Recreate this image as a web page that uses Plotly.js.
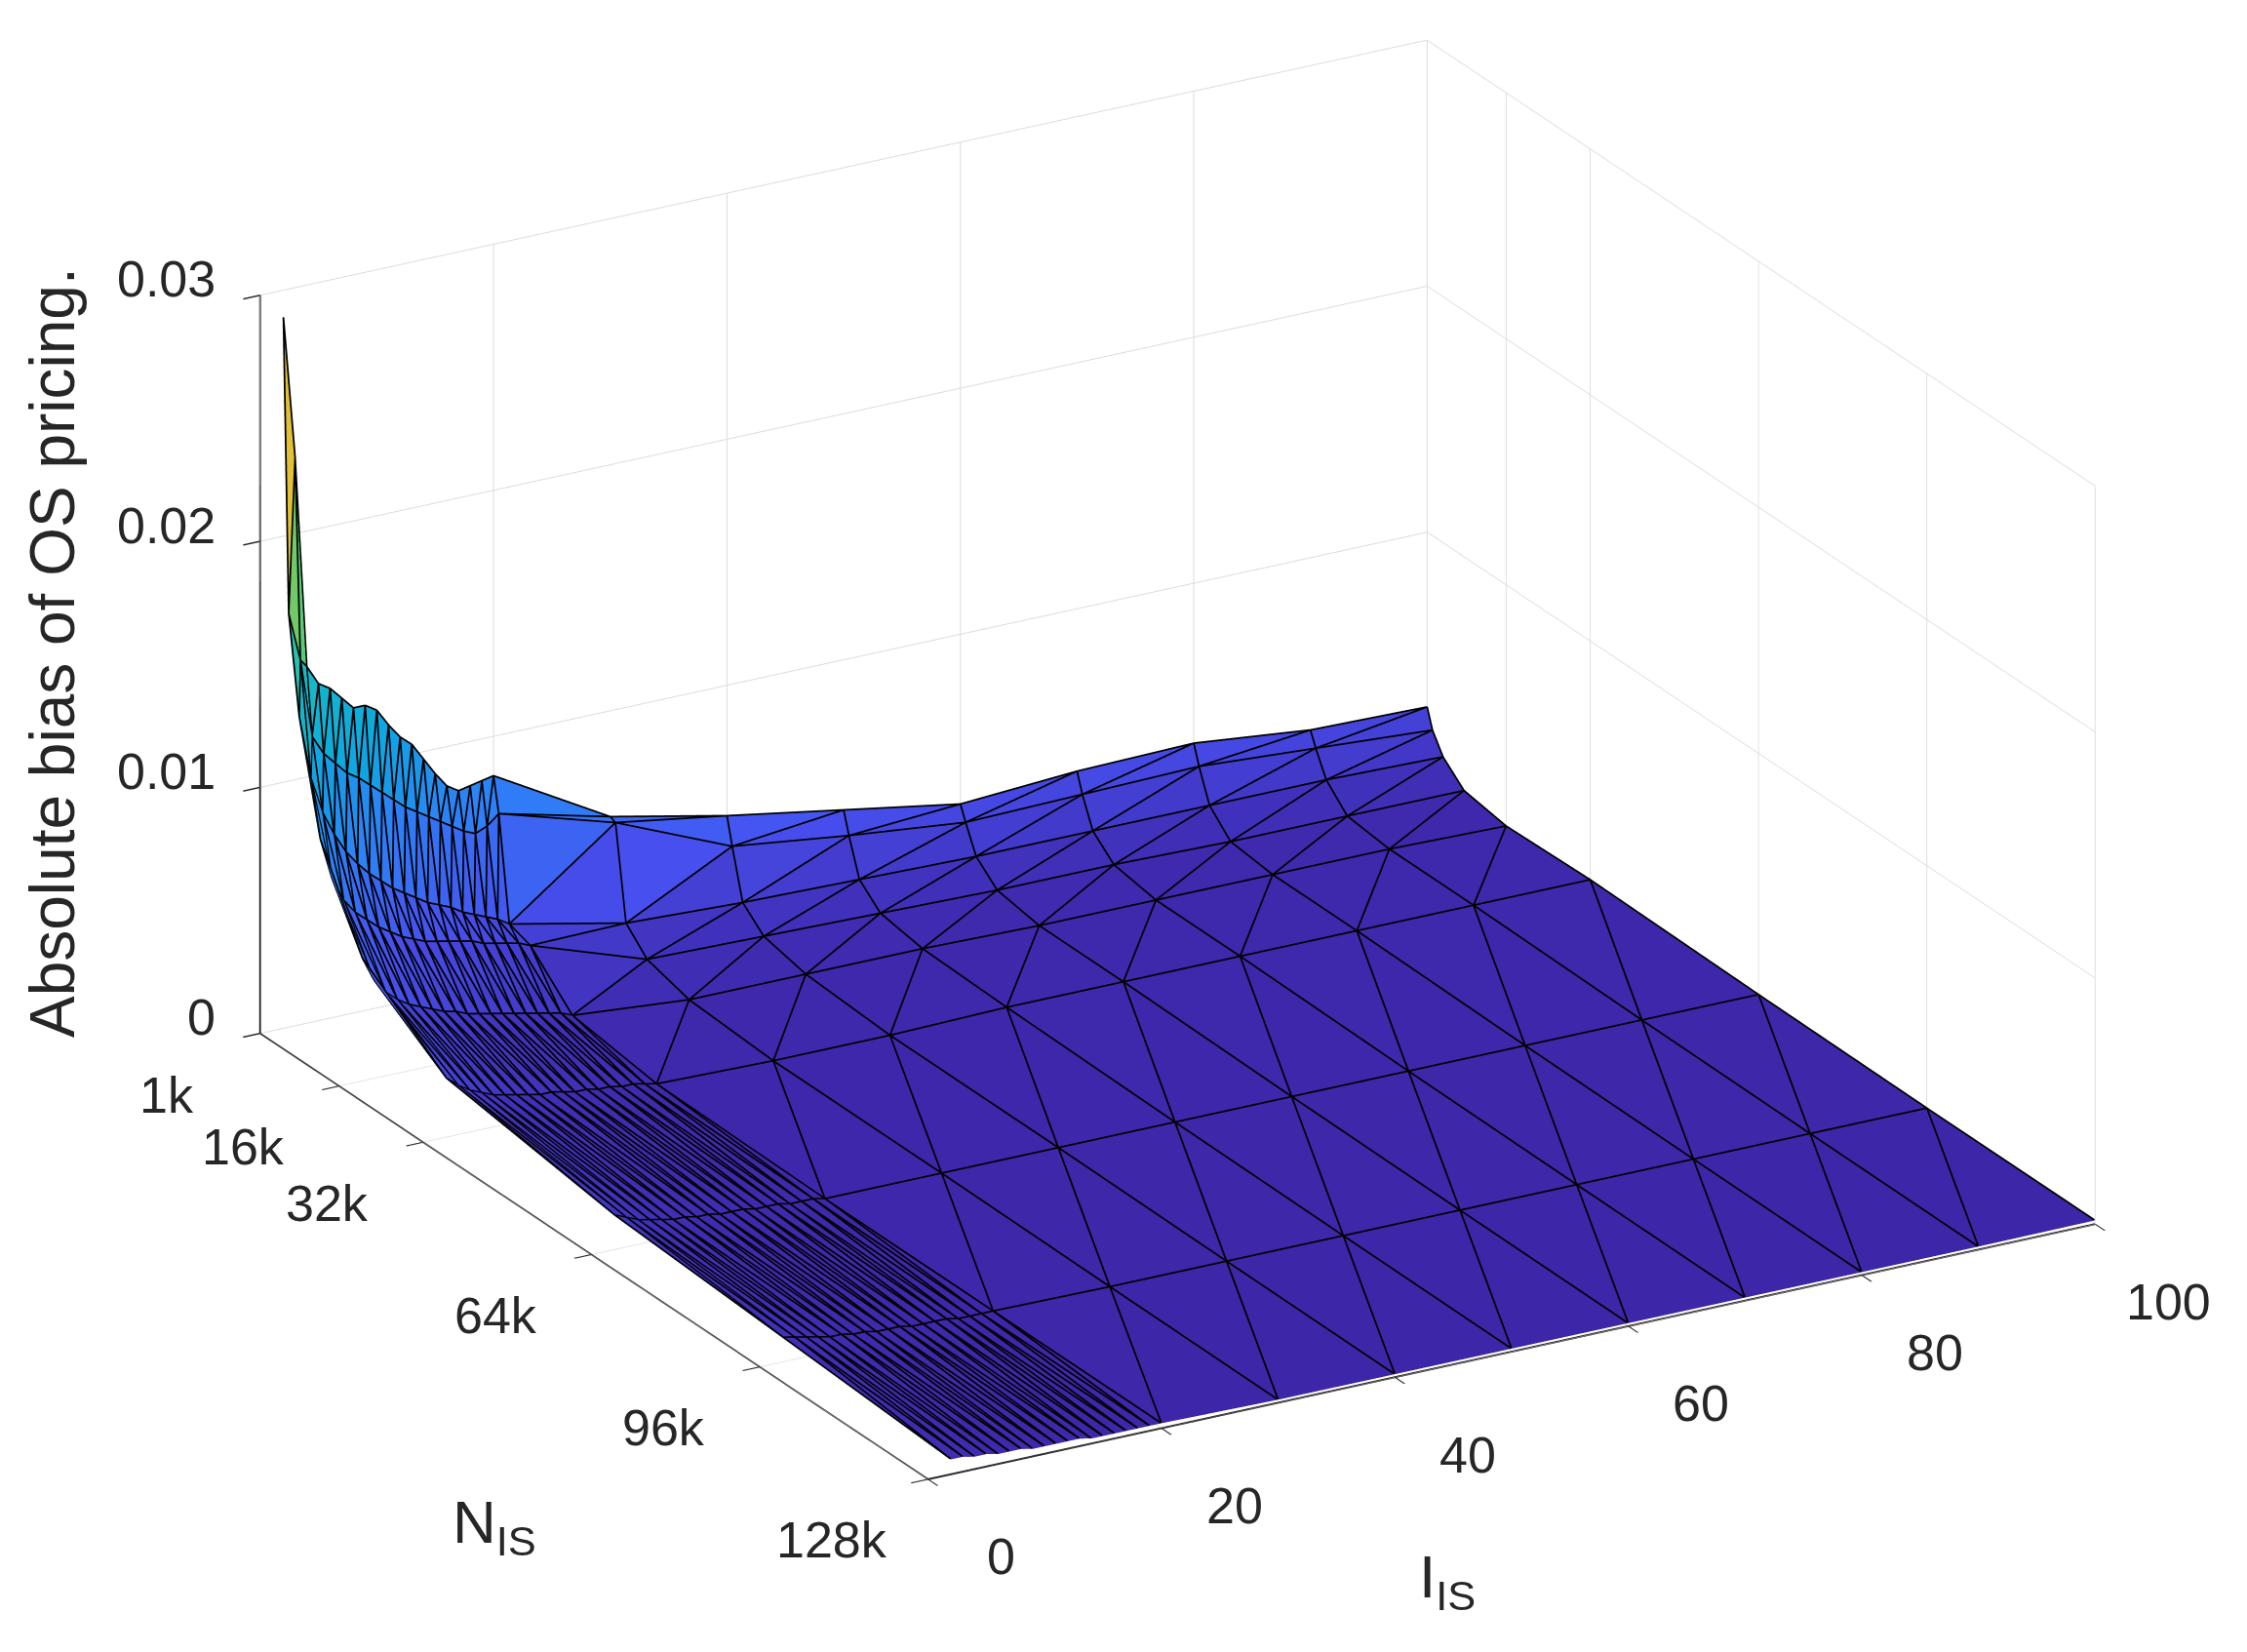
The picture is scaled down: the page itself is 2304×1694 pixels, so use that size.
<!DOCTYPE html>
<html>
<head>
<meta charset="utf-8">
<script src="https://cdn.plot.ly/plotly-3.0.1.min.js"></script>
<style>html,body{margin:0;padding:0;background:#fff;}#chart{width:2304px;height:1694px;}#diag{position:absolute;left:0;top:0;font:30px sans-serif;color:red;z-index:10;}</style>
</head>
<body>
<div id="diag"></div>
<div id="chart"></div>
<script>
const diag = document.getElementById('diag');
window.onerror = function(m){ diag.innerHTML += 'ERR: ' + m + '<br>'; };
// ---- data ----
const N_IS = [1000, 2000, 4000, 8000, 16000, 32000, 64000, 96000, 128000];
const I_IS = [2,3,4,5,6,7,8,9,10,11,12,13,14,15,16,17,18,19,20,30,40,50,60,70,80,90,100];
const N_ticks = [1000, 16000, 32000, 64000, 96000, 128000];
const N_tickText = ['1k', '16k', '32k', '64k', '96k', '128k'];
const I_ticks = [0, 20, 40, 60, 80, 100];
const I_tickText = ['0', '20', '40', '60', '80', '100'];
const Z_ticks = [0, 0.01, 0.02, 0.03];
const Z_tickText = ['0', '0.01', '0.02', '0.03'];

const bias_N1k   = [0.0289,0.0231,0.0145,0.0137,0.0134,0.0129,0.0124,0.0124,0.0121,0.0114,0.0108,0.0104,0.0097,0.0090,0.0084,0.0081,0.0082,0.0083,0.0084, 0.0057,0.0047,0.0039,0.0031,0.0034,0.0035,0.0030,0.0029];
const bias_N2k   = [0.0170,0.0150,0.0118,0.0110,0.0105,0.0100,0.0097,0.0093,0.0089,0.0085,0.0081,0.0078,0.0075,0.0072,0.0069,0.0066,0.0064,0.0066,0.0070, 0.0056,0.0036,0.0030,0.0025,0.0026,0.0027,0.0024,0.0021];
const bias_N4k   = [0.0131,0.0105,0.0090,0.0080,0.0072,0.0066,0.0061,0.0057,0.0053,0.0050,0.0047,0.0044,0.0042,0.0040,0.0037,0.0035,0.0033,0.0031,0.0028, 0.0018,0.0016,0.0015,0.0014,0.0014,0.0014,0.0014,0.0013];
const bias_N8k   = [0.0087,0.0070,0.0060,0.0054,0.0050,0.0046,0.0043,0.0040,0.0038,0.0036,0.0035,0.0034,0.0033,0.0032,0.0030,0.0029,0.0028,0.0027,0.0025, 0.0009,0.0008,0.0007,0.0006,0.0006,0.0005,0.0005,0.0005];
const bias_N16k  = [0.0050,0.0040,0.0034,0.0030,0.0027,0.0025,0.0023,0.0021,0.0020,0.0018,0.0017,0.0016,0.0015,0.0014,0.0013,0.0012,0.0011,0.0010,0.0008, 0.0004,0.0004,0.0004,0.0003,0.0003,0.0003,0.0003,0.0002];
const bias_N32k  = [0.0024,0.0020,0.0017,0.0015,0.0013,0.0012,0.0011,0.0010,0.0009,0.0009,0.0008,0.0007,0.0007,0.0006,0.0006,0.0005,0.0005,0.0004,0.0003, 0.0002,0.0002,0.0003,0.0003,0.0003,0.0003,0.0003,0.0003];
const bias_N64k  = [0.0014,0.0012,0.0010,0.0009,0.0008,0.0007,0.0007,0.0006,0.0006,0.0005,0.0005,0.0005,0.0004,0.0004,0.0004,0.0003,0.0003,0.0003,0.0002, 0.0002,0.0002,0.0002,0.0002,0.0002,0.0002,0.0002,0.0002];
const bias_N96k  = [0.0010,0.0009,0.0008,0.0007,0.0006,0.0006,0.0005,0.0005,0.0004,0.0004,0.0004,0.0003,0.0003,0.0003,0.0003,0.0002,0.0002,0.0002,0.0002, 0.00015,0.00015,0.00015,0.00015,0.00015,0.00015,0.00015,0.00015];
const bias_N128k = [0.0006,0.0006,0.0005,0.0005,0.0004,0.0004,0.0004,0.0003,0.0003,0.0003,0.0003,0.0003,0.0002,0.0002,0.0002,0.0002,0.0002,0.0002,0.0002, 0.00012,0.00012,0.00012,0.00012,0.00012,0.00012,0.00012,0.00015];
const bias = [bias_N1k, bias_N2k, bias_N4k, bias_N8k, bias_N16k, bias_N32k, bias_N64k, bias_N96k, bias_N128k];

// ---- parula colormap (style) ----
const parula = [
  [0.000, [62, 38, 168]],
  [0.125, [71, 80, 240]],
  [0.250, [45, 128, 247]],
  [0.375, [14, 168, 224]],
  [0.500, [26, 190, 186]],
  [0.625, [105, 203, 106]],
  [0.750, [212, 188, 60]],
  [0.875, [252, 200, 50]],
  [1.000, [249, 251, 14]]
];
function parulaColor(t) {
  t = Math.max(0, Math.min(1, t));
  for (let s = 1; s < parula.length; s++) {
    if (t <= parula[s][0]) {
      const a = parula[s-1], b = parula[s];
      const f = (t - a[0]) / (b[0] - a[0]);
      const c = a[1].map((v, q) => Math.round(v + f * (b[1][q] - v)));
      return 'rgb(' + c.join(',') + ')';
    }
  }
  return 'rgb(249,251,14)';
}

// ---- view (MATLAB-like az/el) ----
const viewDir = [0.802, -0.459, 0.382];
const xRange = [1000, 128000], yRange = [0, 100], zRange = [0, 0.03];
const baseAspect = {x: 1, y: 1, z: 0.594};
const boxScale = 1.77;

// ---- build triangulated mesh from the grid ----
const nR = N_IS.length, nC = I_IS.length;
const X = [], Y = [], Z = [];
for (let r = 0; r < nR; r++) for (let c = 0; c < nC; c++) {
  X.push(N_IS[r]); Y.push(I_IS[c]); Z.push(bias[r][c]);
}
const idx = (r, c) => r * nC + c;
let zmin = Infinity, zmax = -Infinity;
Z.forEach(v => { zmin = Math.min(zmin, v); zmax = Math.max(zmax, v); });
const ti = [], tj = [], tk = [], fc = [];
function addTri(a, b, c) {
  ti.push(a); tj.push(b); tk.push(c);
  const m = (Z[a] + Z[b] + Z[c]) / 3;
  fc.push(parulaColor((m - zmin) / (zmax - zmin)));
}
// edges are lifted a hair toward the viewer so they are not hidden by their own faces
const eps = 0.0015;
const lift = [viewDir[0] * eps * (xRange[1] - xRange[0]) / baseAspect.x,
              viewDir[1] * eps * (yRange[1] - yRange[0]) / baseAspect.y,
              viewDir[2] * eps * (zRange[1] - zRange[0]) / baseAspect.z];
const ex = [], ey = [], ez = [];
function addEdge(a, b) {
  ex.push(X[a] + lift[0], X[b] + lift[0], null);
  ey.push(Y[a] + lift[1], Y[b] + lift[1], null);
  ez.push(Z[a] + lift[2], Z[b] + lift[2], null);
}
for (let r = 0; r < nR - 1; r++) {
  for (let c = 1; c < nC; c++) {
    const p00 = idx(r, c - 1), p01 = idx(r, c), p10 = idx(r + 1, c - 1), p11 = idx(r + 1, c);
    addTri(p00, p01, p10);
    addTri(p01, p11, p10);
    addEdge(p01, p10);
  }
}
for (let r = 0; r < nR; r++) for (let c = 1; c < nC; c++) addEdge(idx(r, c - 1), idx(r, c));
for (let c = 0; c < nC; c++) for (let r = 1; r < nR; r++) addEdge(idx(r - 1, c), idx(r, c));

const surf = {
  type: 'mesh3d', x: X, y: Y, z: Z, i: ti, j: tj, k: tk,
  facecolor: fc, flatshading: true,
  lighting: {ambient: 1, diffuse: 0, specular: 0, roughness: 1, fresnel: 0},
  hoverinfo: 'skip', showscale: false
};
const edges = {
  type: 'scatter3d', mode: 'lines', x: ex, y: ey, z: ez,
  line: {color: '#000000', width: 3.5}, hoverinfo: 'skip', showlegend: false, connectgaps: false
};

const axisCommon = {
  showgrid: true, gridcolor: '#dcdcdc', gridwidth: 2,
  showline: true, linecolor: '#262626', linewidth: 4,
  ticks: 'outside', tickcolor: '#262626', ticklen: 20, tickwidth: 3,
  showbackground: false, zeroline: false, showspikes: false,
  showticklabels: false, tickmode: 'array'
};

// tick labels placed as scene annotations at the tick positions
// (anchor points nudged just inside the box so they are never culled at the range edge)
const FONT = 'Liberation Sans, Arial, Helvetica, sans-serif';
const tickLabelFont = {family: FONT, size: 52, color: '#262626'};
const xIn = (xRange[1] - xRange[0]) * 0.003;
const sceneAnn = [];
Z_ticks.forEach((v, q) => sceneAnn.push({x: xRange[0] + xIn, y: yRange[0], z: v, text: Z_tickText[q], showarrow: false,
  xanchor: 'right', yanchor: 'middle', xshift: -46, yshift: 18, font: tickLabelFont}));
N_ticks.forEach((v, q) => sceneAnn.push({x: Math.max(v, xRange[0] + xIn), y: yRange[0], z: zRange[0], text: N_tickText[q], showarrow: false,
  xanchor: 'center', yanchor: 'middle', xshift: -98, yshift: -62, font: tickLabelFont}));
I_ticks.forEach((v, q) => sceneAnn.push({x: xRange[1], y: v, z: zRange[0], text: I_tickText[q], showarrow: false,
  xanchor: 'center', yanchor: 'middle', xshift: 75, yshift: -79, font: tickLabelFont}));

const layout = {
  width: 2304, height: 1694,
  paper_bgcolor: '#ffffff',
  margin: {l: 0, r: 0, t: 0, b: 0},
  showlegend: false,
  hovermode: false,
  scene: {
    domain: {x: [0.049, 0.999], y: [0.08, 1.0]},
    xaxis: Object.assign({}, axisCommon, {title: {text: ''}, range: xRange, tickvals: N_ticks}),
    yaxis: Object.assign({}, axisCommon, {title: {text: ''}, range: yRange, tickvals: I_ticks}),
    zaxis: Object.assign({}, axisCommon, {title: {text: ''}, range: zRange, tickvals: Z_ticks}),
    aspectmode: 'manual',
    aspectratio: {x: baseAspect.x * boxScale, y: baseAspect.y * boxScale, z: baseAspect.z * boxScale},
    camera: {
      eye: {x: viewDir[0] * 2, y: viewDir[1] * 2, z: viewDir[2] * 2},
      up: {x: 0, y: 0, z: 1},
      center: {x: 0, y: 0, z: 0},
      projection: {type: 'orthographic'}
    },
    annotations: sceneAnn
  },
  annotations: [
    {xref: 'paper', yref: 'paper', x: 54 / 2304, y: 1 - 669 / 1694, xanchor: 'center', yanchor: 'middle',
     text: 'Absolute bias of OS pricing.', textangle: -90, showarrow: false,
     font: {family: FONT, size: 64, color: '#262626'}},
    {xref: 'paper', yref: 'paper', x: 507 / 2304, y: 1 - 1565 / 1694, xanchor: 'center', yanchor: 'middle',
     text: 'N<sub>IS</sub>', showarrow: false, font: {family: FONT, size: 62, color: '#262626'}},
    {xref: 'paper', yref: 'paper', x: 1484 / 2304, y: 1 - 1621 / 1694, xanchor: 'center', yanchor: 'middle',
     text: 'I<sub>IS</sub>', showarrow: false, font: {family: FONT, size: 62, color: '#262626'}}
  ]
};

Plotly.newPlot('chart', [surf, edges], layout, {displayModeBar: false}).catch(function(e){ diag.innerHTML += 'P: ' + e; });
</script>
</body>
</html>
